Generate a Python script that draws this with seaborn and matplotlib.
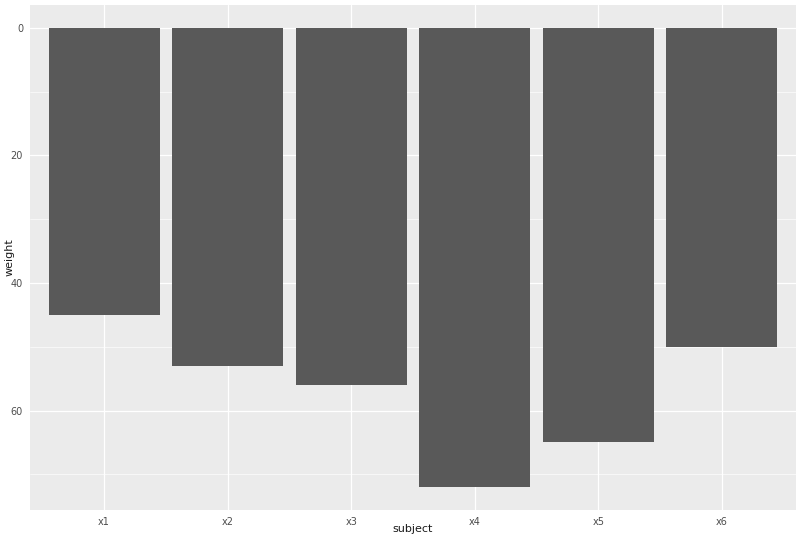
import matplotlib
matplotlib.use("Agg")
import matplotlib.pyplot as plt
import seaborn as sns
import pandas as pd

# data
subjects = ["x1", "x2", "x3", "x4", "x5", "x6"]
weights = [45, 53, 56, 72, 65, 50]

df = pd.DataFrame({"subject": subjects, "weight": weights})

sns.set_theme(style="darkgrid", rc={
    "axes.facecolor": "#EBEBEB",
    "grid.color": "white",
    "axes.edgecolor": "#EBEBEB",
})
plt.rcParams["font.family"] = ["DejaVu Sans"]

fig = plt.figure(figsize=(8, 5.39), dpi=100)
ax = fig.add_axes([30 / 800, 29 / 539, 766 / 800, 505 / 539])

sns.barplot(data=df, x="subject", y="weight", color="#595959", saturation=1,
            width=0.9, linewidth=0, ax=ax, zorder=3)

# minor gridlines like ggplot
ax.set_yticks([10, 30, 50, 70], minor=True)
ax.set_yticks([0, 20, 40, 60])
ax.grid(which="major", color="white", linewidth=0.9)
ax.grid(which="minor", axis="y", color="white", linewidth=0.45)
ax.set_axisbelow(True)

ax.set_xlim(-0.6, 5.6)
ax.set_ylim(75.6, -3.6)

for s in ax.spines.values():
    s.set_visible(False)

ax.tick_params(axis="both", which="major", length=3, color="#333333",
               labelsize=7, labelcolor="#4D4D4D", pad=2)
ax.tick_params(axis="y", which="minor", length=0)
ax.set_xlabel("subject", fontsize=8, color="#1a1a1a")
ax.set_ylabel("weight", fontsize=8, color="#1a1a1a")
ax.xaxis.set_label_coords(0.5, -0.028)
ax.yaxis.set_label_coords(-0.02, 0.5)

fig.savefig("out.png", dpi=100, facecolor="white")
